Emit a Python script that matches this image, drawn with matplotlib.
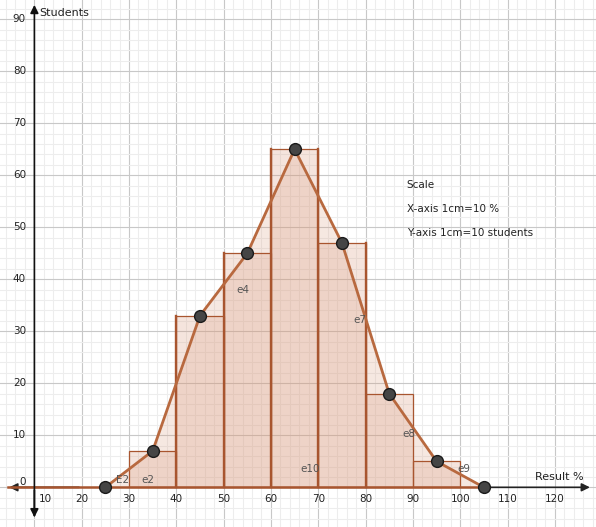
import matplotlib.pyplot as plt
import numpy as np
from matplotlib.patches import Rectangle, Polygon

# histogram classes (Result %) and number of students
bin_left = [30, 40, 50, 60, 70, 80, 90]
bin_width = 10
students = [7, 33, 45, 65, 47, 18, 5]

# frequency polygon (class midpoints)
mid_x = [25, 35, 45, 55, 65, 75, 85, 95, 105]
mid_y = [0, 7, 33, 45, 65, 47, 18, 5, 0]

# GeoGebra object labels
lbl_names = ["E2", "e2", "e4", "e7", "e8", "e9", "e10"]
lbl_x = [27.3, 32.6, 52.6, 77.4, 87.8, 99.3, 66.3]
lbl_y = [0.9, 0.9, 37.4, 31.6, 9.6, 3.0, 3.0]

scale_lines = ["Scale", "X-axis 1cm=10 %", "Y-axis 1cm=10 students"]

edge_col = '#a8552f'
line_col = '#b8693f'
fill_col = '#d9977a'

fig = plt.figure(figsize=(5.96, 5.27), dpi=100)
ax = fig.add_axes([0, 0, 1, 1])
xmin, xmax = 2.73, 128.7
ymin, ymax = -7.63, 93.7
ax.set_xlim(xmin, xmax)
ax.set_ylim(ymin, ymax)
ax.axis('off')

# grid
for gx in np.arange(4, 130, 2):
    major = gx % 10 == 0
    ax.axvline(gx, color='#c8c8c8' if major else '#ededed', lw=0.8, zorder=0)
for gy in np.arange(-6, 94, 2):
    major = gy % 10 == 0
    ax.axhline(gy, color='#c8c8c8' if major else '#ededed', lw=0.8, zorder=0)

# filled area under the frequency polygon
ax.add_patch(Polygon(list(zip(mid_x, mid_y)), closed=True, fc=fill_col, alpha=0.22, ec='none', zorder=1))

# bars
for x0, h in zip(bin_left, students):
    ax.add_patch(Rectangle((x0, 0), bin_width, h, fc=fill_col, alpha=0.25, ec='none', zorder=2))
    ax.add_patch(Rectangle((x0, 0), bin_width, h, fc='none', ec=edge_col, lw=0.9, zorder=3))

# heavier inner bar edges
for i in range(1, 6):
    xe = bin_left[i]
    ax.plot([xe, xe], [0, max(students[i - 1], students[i])], color=edge_col, lw=1.7, zorder=3)

# axes with arrows
ax.annotate('', xy=(128.0, 0), xytext=(105, 0),
            arrowprops=dict(arrowstyle='-|>', color='#222222', lw=1.2, mutation_scale=12), zorder=4)
ax.annotate('', xy=(4.1, 0), xytext=(20, 0),
            arrowprops=dict(arrowstyle='-|>', color='#222222', lw=1.2, mutation_scale=12), zorder=4)
ax.plot([4.5, 105], [0, 0], color=edge_col, lw=1.8, zorder=4)
ax.annotate('', xy=(10, 93.3), xytext=(10, -6.0),
            arrowprops=dict(arrowstyle='-|>', color='#111111', lw=1.2, mutation_scale=12), zorder=4)
ax.annotate('', xy=(10, -6.3), xytext=(10, 0),
            arrowprops=dict(arrowstyle='-|>', color='#111111', lw=1.2, mutation_scale=12), zorder=4)

# frequency polygon
ax.plot(mid_x, mid_y, color=line_col, lw=2.0, zorder=5)
ax.plot(mid_x, mid_y, 'o', ms=8.5, mfc='#454545', mec='#1a1a1a', mew=1.0, zorder=6)

# tick labels
for tx in range(10, 130, 10):
    ax.text(tx + (2.3 if tx == 10 else 0), -1.2, str(tx), ha='center', va='top', fontsize=7.5, color='#222222')
for ty in range(0, 100, 10):
    ax.text(8.2, ty + (1.0 if ty == 0 else 0), str(ty), ha='right', va='center', fontsize=7.5, color='#222222')

ax.text(11.0, 91.2, "Students", ha='left', va='center', fontsize=8, color='#222222')
ax.text(126.0, 1.0, "Result %", ha='right', va='bottom', fontsize=8, color='#222222')

for s, lx, ly in zip(lbl_names, lbl_x, lbl_y):
    ax.text(lx, ly, s, fontsize=7.5, color='#555555', zorder=7)

for k, s in enumerate(scale_lines):
    ax.text(88.7, 58.1 - 4.6 * k, s, ha='left', va='center', fontsize=7.5, color='#222222')

fig.savefig('out.png', dpi=100)
